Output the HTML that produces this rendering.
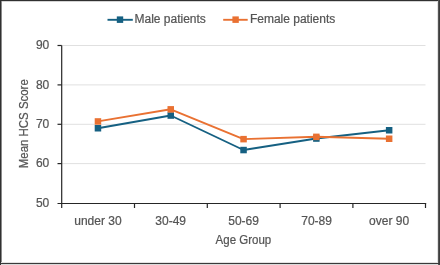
<!DOCTYPE html>
<html><head><meta charset="utf-8">
<style>
html,body{margin:0;padding:0;background:#fff;}
body{width:440px;height:265px;overflow:hidden;}
svg{display:block;will-change:transform;}
text{font-family:"Liberation Sans",sans-serif;font-size:12px;fill:#555555;stroke:#555555;stroke-width:0.22px;}
</style></head><body>
<svg width="440" height="265" viewBox="0 0 440 265">
<rect x="0" y="0" width="440" height="265" fill="#ffffff"/>
<!-- border -->
<g shape-rendering="crispEdges">
<rect x="0" y="1" width="440" height="1" fill="#d4d4d4"/>
<rect x="1" y="0" width="1" height="265" fill="#8a8a8a"/>
<rect x="437" y="0" width="1" height="265" fill="#e2e2e2"/>
<rect x="0" y="262" width="440" height="1" fill="#e2e2e2"/>
<rect x="0" y="264" width="440" height="1" fill="#dadada"/>
<rect x="0" y="0" width="440" height="1" fill="#303030"/>
<rect x="0" y="0" width="1" height="265" fill="#303030"/>
<rect x="438" y="0" width="1" height="265" fill="#555555"/>
<rect x="439" y="0" width="1" height="265" fill="#3d3d3d"/>
<rect x="0" y="263" width="440" height="1" fill="#3a3a3a"/>
</g>
<!-- gridlines -->
<g stroke="#e0e0e0" stroke-width="1">
<line x1="62" y1="45.5" x2="425.5" y2="45.5"/>
<line x1="62" y1="84.9" x2="425.5" y2="84.9"/>
<line x1="62" y1="124.3" x2="425.5" y2="124.3"/>
<line x1="62" y1="163.6" x2="425.5" y2="163.6"/>
</g>
<!-- axes -->
<g stroke="#262626" stroke-width="1.2" fill="none">
<line x1="61.7" y1="45.5" x2="61.7" y2="208"/>
<line x1="57.5" y1="203.5" x2="426.2" y2="203.5"/>
<line x1="57.5" y1="45.5" x2="61.7" y2="45.5"/>
<line x1="57.5" y1="84.9" x2="61.7" y2="84.9"/>
<line x1="57.5" y1="124.3" x2="61.7" y2="124.3"/>
<line x1="57.5" y1="163.6" x2="61.7" y2="163.6"/>
<line x1="134.5" y1="203.5" x2="134.5" y2="208"/>
<line x1="207.3" y1="203.5" x2="207.3" y2="208"/>
<line x1="280.1" y1="203.5" x2="280.1" y2="208"/>
<line x1="352.9" y1="203.5" x2="352.9" y2="208"/>
<line x1="425.5" y1="203.5" x2="425.5" y2="208"/>
</g>
<!-- y labels -->
<g text-anchor="end">
<text x="49.3" y="49.3">90</text>
<text x="49.3" y="88.6">80</text>
<text x="49.3" y="128">70</text>
<text x="49.3" y="167.3">60</text>
<text x="49.3" y="206.7">50</text>
</g>
<!-- x labels -->
<g text-anchor="middle">
<text x="97.9" y="224.8">under 30</text>
<text x="170.7" y="224.8">30-49</text>
<text x="243.6" y="224.8">50-69</text>
<text x="316.6" y="224.8">70-89</text>
<text x="389.1" y="224.8">over 90</text>
<text x="243.4" y="243.6" textLength="55.6" lengthAdjust="spacingAndGlyphs">Age Group</text>
</g>
<text transform="translate(28.1,123.7) rotate(-90)" text-anchor="middle" textLength="89" lengthAdjust="spacingAndGlyphs">Mean HCS Score</text>
<!-- series male -->
<polyline fill="none" stroke="#156082" stroke-width="1.9" stroke-linejoin="round" points="97.9,128.25 170.7,115.5 243.5,150 316.3,138.5 389.1,130.25"/>
<g fill="#156082">
<rect x="94.7" y="125" width="6.5" height="6.5"/>
<rect x="167.5" y="112.3" width="6.5" height="6.5"/>
<rect x="240.3" y="146.8" width="6.5" height="6.5"/>
<rect x="313.1" y="135.3" width="6.5" height="6.5"/>
<rect x="385.9" y="127" width="6.5" height="6.5"/>
</g>
<!-- series female -->
<polyline fill="none" stroke="#e97132" stroke-width="1.9" stroke-linejoin="round" points="97.9,121.4 170.7,109.3 243.5,139.1 316.3,136.8 389.1,138.75"/>
<g fill="#e97132">
<rect x="94.7" y="118.2" width="6.5" height="6.5"/>
<rect x="167.5" y="106.1" width="6.5" height="6.5"/>
<rect x="240.3" y="135.9" width="6.5" height="6.5"/>
<rect x="313.1" y="133.6" width="6.5" height="6.5"/>
<rect x="385.9" y="135.5" width="6.5" height="6.5"/>
</g>
<!-- legend -->
<line x1="107.5" y1="19.8" x2="132.8" y2="19.8" stroke="#156082" stroke-width="1.9"/>
<rect x="116.8" y="16.4" width="6.4" height="6.5" fill="#156082"/>
<text x="134.5" y="23">Male patients</text>
<line x1="223.2" y1="19.8" x2="247.7" y2="19.8" stroke="#e97132" stroke-width="1.9"/>
<rect x="232.4" y="16.4" width="6.4" height="6.5" fill="#e97132"/>
<text x="249.9" y="23">Female patients</text>
</svg>
</body></html>
